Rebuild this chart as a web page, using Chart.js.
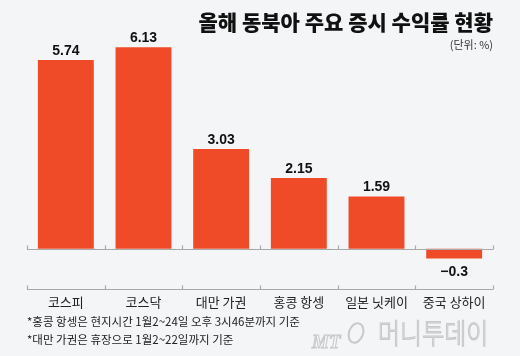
<!DOCTYPE html>
<html><head><meta charset="utf-8">
<script src="https://cdn.jsdelivr.net/npm/chart.js@4"></script>
<style>html,body{margin:0;padding:0;background:#f4f5f7;}#wrap{width:520px;height:356px;position:relative;}</style>
</head><body><div id="wrap"><canvas id="c" width="520" height="356"></canvas></div>
<script>
const categories = ['코스피', '코스닥', '대만 가권', '홍콩 항셍', '일본 닛케이', '중국 상하이'];
const values = [5.74, 6.13, 3.03, 2.15, 1.59, -0.3];
const valueLabels = ['5.74', '6.13', '3.03', '2.15', '1.59', '−0.3'];
const titleText = '올해 동북아 주요 증시 수익률 현황';
const unitText = '(단위: %)';
const footnotes = ['*홍콩 항셍은 현지시간 1월2~24일 오후 3시46분까지 기준', '*대만 가권은 휴장으로 1월2~22일까지 기준'];

const KR = '"Noto Sans CJK KR", "Noto Sans", sans-serif';

const deco = {
  id: 'deco',
  beforeDraw(chart) {
    const ctx = chart.ctx;
    ctx.save();
    ctx.fillStyle = '#f4f5f7';
    ctx.fillRect(0, 0, chart.width, chart.height);
    ctx.restore();
  },
  afterDatasetsDraw(chart) {
    const ctx = chart.ctx, x = chart.scales.x, y = chart.scales.y;
    const area = chart.chartArea;
    ctx.save();
    const half = (x.getPixelForValue(1) - x.getPixelForValue(0)) / 2;
    const drawAxis = (py) => {
      ctx.strokeStyle = '#a9a9a9';
      ctx.lineWidth = 1.2;
      ctx.beginPath();
      ctx.moveTo(area.left, py); ctx.lineTo(area.right, py);
      for (let i = 0; i <= categories.length; i++) {
        const px = Math.round(x.getPixelForValue(i) - half) + 0.5;
        ctx.moveTo(px, py); ctx.lineTo(px, py - 4);
      }
      ctx.stroke();
    };
    drawAxis(Math.round(y.getPixelForValue(0)) + 0.5);
    drawAxis(Math.round(area.bottom) + 0.5);
    // value labels
    ctx.fillStyle = '#111';
    ctx.font = 'bold 14px "Liberation Sans", Arial, sans-serif';
    ctx.textAlign = 'center';
    const meta = chart.getDatasetMeta(0);
    meta.data.forEach((bar, i) => {
      if (values[i] >= 0) {
        ctx.textBaseline = 'alphabetic';
        ctx.fillText(valueLabels[i], bar.x, bar.y - 5);
      } else {
        ctx.textBaseline = 'top';
        ctx.fillText(valueLabels[i], bar.x, bar.y + 7);
      }
    });
    // title
    ctx.textAlign = 'right';
    ctx.textBaseline = 'middle';
    ctx.fillStyle = '#111';
    ctx.font = '900 21px ' + KR;
    ctx.fillText(titleText, 493, 22);
    ctx.font = '11px ' + KR;
    ctx.fillStyle = '#333';
    ctx.fillText(unitText, 493, 45);
    // footnotes
    ctx.textAlign = 'left';
    ctx.fillStyle = '#222';
    ctx.font = '11.5px ' + KR;
    ctx.fillText(footnotes[0], 27, 322);
    ctx.fillText(footnotes[1], 27, 340);
    // watermark
    ctx.strokeStyle = '#c8c8c8';
    ctx.lineWidth = 1;
    ctx.font = 'italic bold 19px "Liberation Serif", serif';
    ctx.strokeText('MT', 312, 343);
    ctx.lineWidth = 2;
    ctx.beginPath();
    ctx.ellipse(356, 333, 7, 10, 0.35, 0, Math.PI * 2);
    ctx.stroke();
    ctx.lineWidth = 1;
    ctx.save();
    ctx.translate(378, 344);
    ctx.scale(1, 1.2);
    ctx.textBaseline = 'alphabetic';
    ctx.font = '300 24px ' + KR;
    ctx.strokeText('머니투데이', 0, 0);
    ctx.restore();
    ctx.restore();
  }
};

new Chart(document.getElementById('c'), {
  type: 'bar',
  data: {
    labels: categories,
    datasets: [{
      data: values,
      backgroundColor: '#ef4b29',
      borderWidth: 0,
      barPercentage: 0.72,
      categoryPercentage: 1.0
    }]
  },
  options: {
    responsive: false,
    animation: false,
    layout: { padding: { left: 27, right: 27, top: 35, bottom: 41 } },
    plugins: { legend: { display: false }, tooltip: { enabled: false }, title: { display: false } },
    scales: {
      x: {
        grid: { display: false, drawTicks: false },
        border: { display: false },
        ticks: { color: '#222', font: { family: KR, size: 13 }, padding: 5 }
      },
      y: {
        display: false,
        min: -1.24,
        max: 6.5
      }
    }
  },
  plugins: [deco]
});
</script></body></html>
